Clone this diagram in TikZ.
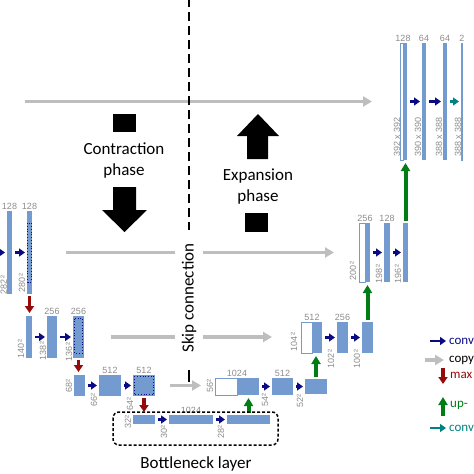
\documentclass[tikz,border=0pt]{standalone}
\usepackage{fontspec}
\setmainfont{Carlito}
\newfontfamily\dimfont{Liberation Sans}
\usetikzlibrary{arrows.meta,positioning}

\definecolor{ublue}{RGB}{115,155,208}
\definecolor{convblue}{RGB}{10,10,130}
\definecolor{copygray}{RGB}{190,190,190}
\definecolor{poolred}{RGB}{150,10,10}
\definecolor{upgreen}{RGB}{0,125,20}
\definecolor{finteal}{RGB}{0,130,130}
\definecolor{dimgray}{RGB}{140,140,140}

\tikzset{
  sz/.style 2 args={minimum width=#1pt, minimum height=#2pt},
  bar/.style={fill=ublue, inner sep=0pt, outer sep=0pt},
  hollow/.style={draw=ublue, fill=white, line width=0.6pt, inner sep=0pt, outer sep=0pt},
  dotbox/.style={draw=convblue, dotted, line width=0.8pt},
  dim/.style={text=dimgray, font=\dimfont\fontsize{9}{10}\selectfont, inner sep=1pt},
  vdim/.style={dim, rotate=90},
  conv/.style={draw=convblue, line width=2.5pt, -{Triangle[length=6pt,width=8pt]}, shorten <=3pt, shorten >=2pt},
  fin/.style={conv, draw=finteal},
  pool/.style={draw=poolred, line width=3.5pt, -{Triangle[length=7pt,width=9pt]}, shorten <=2pt, shorten >=3pt},
  upconv/.style={draw=upgreen, line width=4pt, -{Triangle[length=8pt,width=9pt]}, shorten <=2pt, shorten >=3pt},
  copy/.style={draw=copygray, line width=3.5pt, -{Triangle[length=9pt,width=10pt]}},
  phase/.style={font=\fontsize{17}{21}\selectfont, align=center},
  legtxt/.style={anchor=west, inner sep=0pt, font=\fontsize{13}{15}\selectfont},
  skipline/.style={line width=2.5pt, dash pattern=on 9pt off 5pt},
}

\begin{document}
\begin{tikzpicture}[x=1pt, y=-1pt]
  \useasboundingbox (0,0) rectangle (474,474);

  % contraction path
  \node[bar, sz={5}{83}] (B11) at (9.5,252.5) {};
  \node[bar, sz={5}{83}] (B12) at (29.5,252.5) {};
  \draw[dotbox] (27.8,223) rectangle (31.2,282);
  \node[bar, sz={6}{42}] (B21) at (29,337) {};
  \node[bar, sz={10}{42}] (B22) at (52,337) {};
  \node[bar, sz={11}{42}] (B23) at (78.5,337) {};
  \draw[dotbox] (74.5,318.5) rectangle (82.5,353);
  \node[bar, sz={11}{21}] (B31) at (79.5,385.5) {};
  \node[bar, sz={22}{21}] (B32) at (110,385.5) {};
  \node[bar, sz={22}{21}] (B33) at (144,385.5) {};
  \draw[dotbox] (134.2,376.2) rectangle (153.8,394.8);

  % bottleneck
  \node[bar, sz={22}{9}] (B41) at (144,419.5) {};
  \node[bar, sz={44}{9}] (B42) at (191,419.5) {};
  \node[bar, sz={43}{9}] (B43) at (248.5,419.5) {};

  % expansion path
  \node[hollow, sz={22}{17}] (W3) at (226,386.5) {};
  \node[bar, sz={22}{17}] (E31) at (248,386.5) {};
  \node[bar, sz={21}{17}] (E32) at (282.5,386.5) {};
  \node[bar, sz={22}{15}] (E33) at (316,386.5) {};
  \node[hollow, sz={11}{31}] (W2) at (306.5,337.5) {};
  \node[bar, sz={10}{31}] (E21) at (317,337.5) {};
  \node[bar, sz={11}{31}] (E22) at (342.5,337.5) {};
  \node[bar, sz={11}{31}] (E23) at (367.5,337.5) {};
  \node[hollow, sz={6}{59}] (W1) at (362,252.5) {};
  \node[bar, sz={5}{59}] (E11) at (367.5,252.5) {};
  \node[bar, sz={6}{59}] (E12) at (387,252.5) {};
  \node[bar, sz={5}{59}] (E13) at (405.5,252.5) {};
  \node[hollow, sz={3}{117}] (W0) at (401.5,101.5) {};
  \node[bar, sz={4}{117}] (E01) at (405,101.5) {};
  \node[bar, sz={4}{117}] (E02) at (424,101.5) {};
  \node[bar, sz={4}{117}] (E03) at (445,101.5) {};
  \node[hollow, sz={1.5}{117}] (E04) at (461.75,101.5) {};

  % channel counts
  \node[dim, above=0pt of B11] {128};
  \node[dim, above=0pt of B12] {128};
  \node[dim, above=0pt of B22] {256};
  \node[dim, above=0pt of B23] {256};
  \node[dim, above=0pt of B32] {512};
  \node[dim, above=0pt of B33] {512};
  \node[dim, above=0pt of B42] {1024};
  \node[dim, above=0pt of W3.north east] {1024};
  \node[dim, above=0pt of E32] {512};
  \node[dim, above=0pt of W2.north east] {512};
  \node[dim, above=0pt of E22] {256};
  \node[dim, above=0pt of W1.north east] {256};
  \node[dim, above=0pt of E12] {128};
  \node[dim, above=0pt of W0.north east] {128};
  \node[dim, above=0pt of E02] {64};
  \node[dim, above=0pt of E03] {64};
  \node[dim, above=0pt of E04] {2};

  % feature map sizes
  \node[vdim, inner sep=0pt] at (3.8,285) {282²};
  \node[vdim] at (22,283) {280²};
  \node[vdim] at (21,349) {140²};
  \node[vdim] at (43,351) {138²};
  \node[vdim] at (69,352) {136²};
  \node[vdim] at (69,386) {68²};
  \node[vdim] at (94,400) {66²};
  \node[vdim] at (130,404) {64²};
  \node[vdim] at (128,422) {32²};
  \node[vdim] at (164,432) {30²};
  \node[vdim] at (221,432) {28²};
  \node[vdim] at (210,386) {56²};
  \node[vdim] at (265,400) {54²};
  \node[vdim] at (300,401) {52²};
  \node[vdim] at (294,342) {104²};
  \node[vdim] at (331,359) {102²};
  \node[vdim] at (357,359) {100²};
  \node[vdim] at (353,271) {200²};
  \node[vdim] at (379,274) {198²};
  \node[vdim] at (398,274) {196²};
  \node[vdim] at (397,137) {392 x 392};
  \node[vdim] at (418,137) {390 x 390};
  \node[vdim] at (439,137) {388 x 388};
  \node[vdim] at (458,137) {388 x 388};

  % conv arrows
  \coordinate (in0) at (-8,252.5);
  \draw[conv] (in0) -- (B11);
  \draw[conv] (B11) -- (B12);
  \draw[conv] (B21) -- (B22);
  \draw[conv] (B22) -- (B23);
  \draw[conv] (B31) -- (B32);
  \draw[conv] (B32) -- (B33);
  \draw[conv] (B41) -- (B42);
  \draw[conv] (B42) -- (B43);
  \draw[conv] (E31) -- (E32);
  \draw[conv] (E32) -- (E33);
  \draw[conv] (E21) -- (E22);
  \draw[conv] (E22) -- (E23);
  \draw[conv] (E11) -- (E12);
  \draw[conv] (E12) -- (E13);
  \draw[conv] (E01) -- (E02);
  \draw[conv] (E02) -- (E03);
  \draw[fin] (E03) -- (E04);

  % max pool and up-conv
  \draw[pool] (B12.south) -- (B12.south |- B21.north);
  \draw[pool] (B23.south) -- (B23.south |- B31.north);
  \draw[pool] (B33.south) -- (B33.south |- B41.north);
  \draw[upconv] (B43.north) -- (B43.north |- E31.south);
  \draw[upconv] (E33.north) -- (E33.north |- E21.south);
  \draw[upconv] (E23.north) -- (E23.north |- E11.south);
  \draw[upconv] (E13.north) -- (E13.north |- E01.south);

  % copy and crop
  \coordinate (c0) at (25,101.5);
  \draw[copy, shorten >=28pt] (c0) -- (c0 -| W0.west);
  \draw[copy, shorten <=34pt, shorten >=25pt] (B12.east) -- (B12.east -| W1.west);
  \draw[copy, shorten <=27pt, shorten >=29pt] (B23.east) -- (B23.east -| W2.west);
  \draw[copy, shorten <=15pt, shorten >=14pt] (B33.east) -- (B33.east -| W3.west);

  % skip connection divider
  \draw[skipline] (189,-2) -- (189,230);
  \draw[line width=2.5pt] (189,370) -- (189,382);
  \node[phase, rotate=90, fill=white, inner xsep=0pt, inner ysep=7pt] (skip) at (189,298) {Skip connection};

  % phases
  \fill (113,114) rectangle (136,132);
  \node[phase] (contr) at (124,160.5) {Contraction\\phase};
  \fill (113,187) -- (136,187) -- (136,210) -- (147,210) -- (124.5,232) -- (102,210) -- (113,210) -- cycle;
  \fill (247,159) -- (268,159) -- (268,136) -- (279,136) -- (258,114) -- (237,136) -- (247,136) -- cycle;
  \node[phase] (expan) at (258,186.5) {Expansion\\phase};
  \fill (245,213) rectangle (268,232);

  % bottleneck box
  \draw[line width=1.5pt, dash pattern=on 3pt off 2pt, rounded corners=6pt] (113,412) rectangle (278,445);
  \node[phase] (bneck) at (196,464) {Bottleneck layer};

  % legend
  \node[legtxt, text=convblue] (l1) at (449,341) {conv};
  \node[legtxt] (l2) at (449,360) {copy};
  \node[legtxt, text=poolred] (l3) at (450,375) {max};
  \node[legtxt, text=upgreen] (l4) at (450,405) {up-};
  \node[legtxt, text=finteal] (l5) at (449,428) {conv};
  \coordinate (a1) at (430,341);
  \coordinate (a2) at (425,360);
  \coordinate (a3) at (443,368);
  \coordinate (a3e) at (443,384);
  \coordinate (a4) at (443,416);
  \coordinate (a4e) at (443,397);
  \coordinate (a5) at (430,428);
  \draw[conv, shorten <=0pt, shorten >=3pt] (a1) -- (l1.west);
  \draw[copy, shorten >=5pt] (a2) -- (l2.west);
  \draw[pool, shorten <=0pt, shorten >=0pt] (a3) -- (a3e);
  \draw[upconv, shorten <=0pt, shorten >=0pt] (a4) -- (a4e);
  \draw[fin, shorten <=0pt, shorten >=3pt] (a5) -- (l5.west);
\end{tikzpicture}
\end{document}
